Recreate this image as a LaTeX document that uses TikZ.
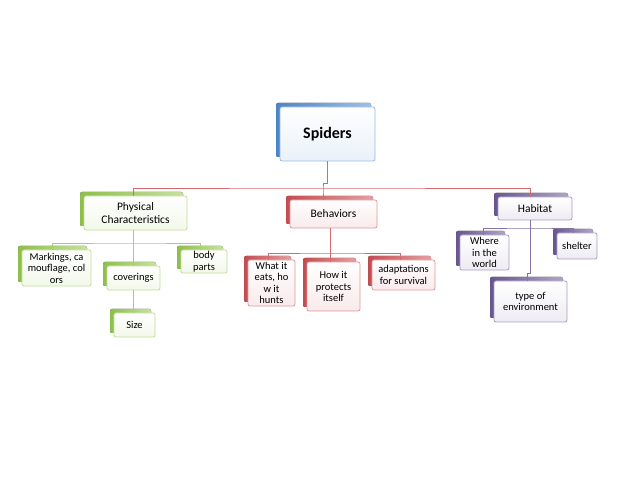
\documentclass[tikz,border=0pt]{standalone}
\usepackage{fontspec}
\setmainfont{Carlito}
\usetikzlibrary{shadows}
\begin{document}
\begin{tikzpicture}[x=1pt,y=-1pt,
  box/.style={draw=#1!60!white, rounded corners=2pt, line width=0.8pt, top color=white, bottom color=#1!12!white,
    align=center, font=\fontsize{10.5}{11.5}\selectfont, inner sep=1pt,
    copy shadow={shadow xshift=-4pt, shadow yshift=4pt, left color=#1!95!black, right color=#1!55!white, draw=none}},
  link/.style={draw=#1!85!white, line width=0.6pt}]
\useasboundingbox (0,0) rectangle (638,478);
\definecolor{cb}{RGB}{80,140,210}
\definecolor{cg}{RGB}{150,200,80}
\definecolor{cr}{RGB}{205,80,85}
\definecolor{cp}{RGB}{110,90,150}
\node[box=cb, minimum width=95pt, minimum height=54pt, font=\fontsize{16}{18}\selectfont\bfseries] (sp) at (327.5,134) {Spiders};
\node[box=cg, minimum width=103pt, minimum height=34pt, font=\fontsize{11.5}{13.5}\selectfont] (pc) at (135.5,213) {Physical\\Characteristics};
\node[box=cr, minimum width=87pt, minimum height=28pt, font=\fontsize{11.5}{13.5}\selectfont] (be) at (333.5,214) {Behaviors};
\node[box=cp, minimum width=74pt, minimum height=23pt, font=\fontsize{11.5}{13.5}\selectfont] (ha) at (535,208.5) {Habitat};
\node[box=cg, minimum width=69pt, minimum height=36pt] (mk) at (56.5,268) {Markings, ca\\mouflage, col\\ors};
\node[box=cg, minimum width=53pt, minimum height=24pt] (cv) at (133.5,278) {coverings};
\node[box=cg, minimum width=46pt, minimum height=23pt] (bp) at (204,261.5) {body\\parts};
\node[box=cg, minimum width=41pt, minimum height=24pt] (sz) at (134.5,325) {Size};
\node[box=cr, minimum width=47pt, minimum height=46pt] (we) at (271.5,283) {What it\\eats, ho\\w it\\hunts};
\node[box=cr, minimum width=53pt, minimum height=49pt] (hp) at (333.5,286.5) {How it\\protects\\itself};
\node[box=cr, minimum width=63pt, minimum height=30pt] (ad) at (403.5,275) {adaptations\\for survival};
\node[box=cp, minimum width=49pt, minimum height=35pt] (ww) at (484.5,252.5) {Where\\in the\\world};
\node[box=cp, minimum width=40pt, minimum height=26pt] (sh) at (577,246) {shelter};
\node[box=cp, minimum width=73pt, minimum height=41pt] (te) at (530.5,301.5) {type of\\environment};
\coordinate (j0) at (323,188);
\coordinate (jp) at (133,243);
\coordinate (jb) at (330,253);
\coordinate (jh) at (530,228);
% level 1
\draw[link=cr] (sp.south) -- (327.5,183) -- (323,183) -- (j0) -- (be.north -| j0);
\draw[link=cr] (pc.north -| jp) |- (j0) -| (ha.north -| jh);
% physical
\draw[link=cg] (pc.south -| jp) -- (cv.north -| jp);
\draw[link=cg] (mk.north -| 52,0) |- (jp) -| (bp.north -| 200,0);
\draw[link=cg] (cv.south -| jp) -- (sz.north -| jp);
% behaviors
\draw[link=cr] (be.south -| jb) -- (jb);
\draw[link=cr] (we.north -| 268,0) |- (jb) -| (ad.north -| 400,0);
\draw[link=cr] (jb) -- (hp.north -| jb);
% habitat
\draw[link=cp] (ww.north -| 483,0) |- (jh) -| (sh.north -| 573,0);
\draw[link=cp] (ha.south -| jh) -- (530,273) -- (527,273) -- (te.north -| 527,0);
\end{tikzpicture}
\end{document}
